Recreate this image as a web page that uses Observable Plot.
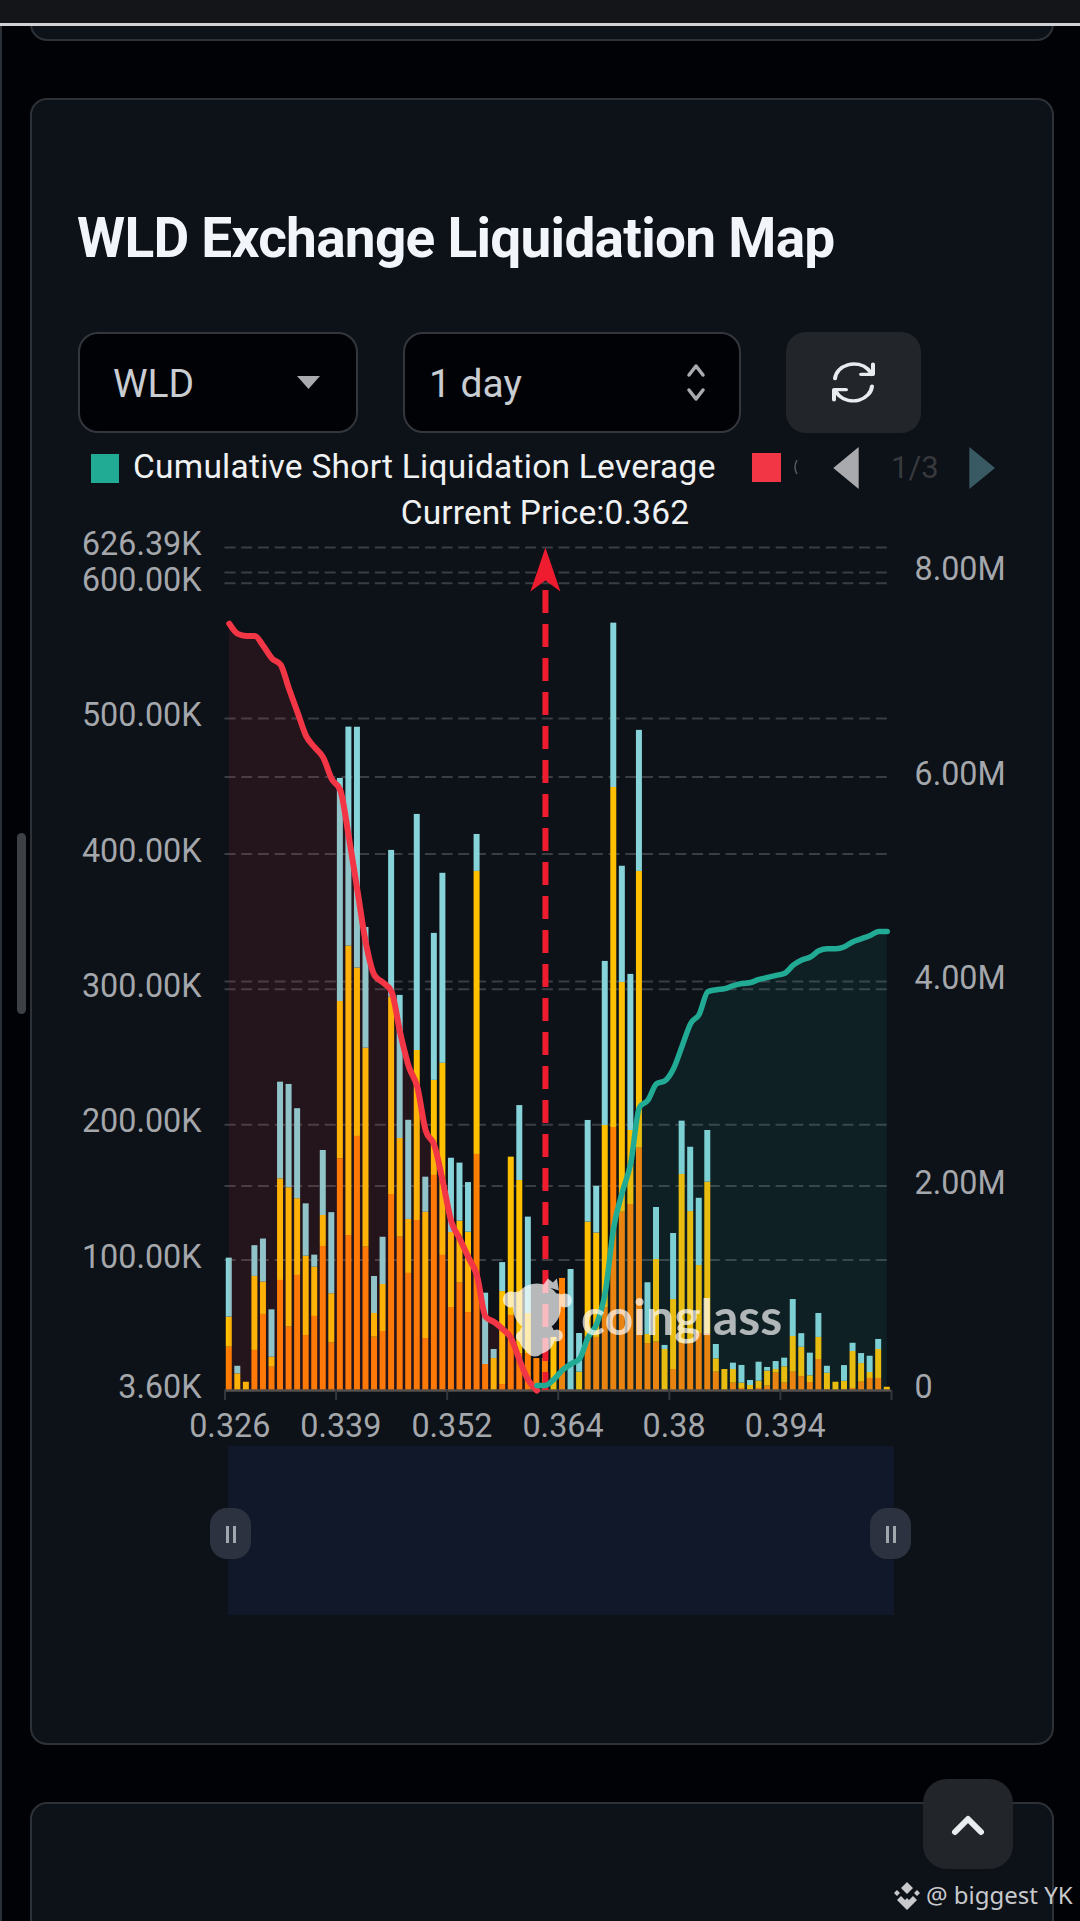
<!DOCTYPE html>
<html><head><meta charset="utf-8">
<script src="https://cdn.jsdelivr.net/npm/d3@7"></script>
<script src="https://cdn.jsdelivr.net/npm/@observablehq/plot@0.6"></script>
<style>
html,body{margin:0;padding:0;width:1080px;height:1921px;background:#000206;overflow:hidden;font-family:Roboto,sans-serif}
.a{position:absolute;box-sizing:border-box;white-space:nowrap}
.card{background:#0d1118;border:2px solid #2d3138;border-radius:17px}
.box{background:#000206;border:2px solid #33373d;border-radius:20px}
#chart{position:absolute;left:0;top:500px}
#chart svg{background:transparent;overflow:visible}
svg.i{position:absolute;left:0;top:0}
</style></head><body>
<div class="a" style="left:0;top:0;width:1080px;height:23px;background:#141519;z-index:3"></div>
<div class="a" style="left:0;top:23px;width:1080px;height:3px;background:#d0d1d5;z-index:3"></div>
<div class="a" style="left:0;top:26px;width:2px;height:1895px;background:#2b2f36"></div>
<div class="a card" style="left:30px;top:-40px;width:1024px;height:81px"></div>
<div class="a card" style="left:30px;top:98px;width:1024px;height:1647px"></div>
<div class="a card" style="left:30px;top:1802px;width:1024px;height:200px"></div>
<div class="a" style="left:17px;top:833px;width:9px;height:181px;background:#3d4044;border-radius:5px"></div>

<div class="a" id="title" style="left:77px;top:206px;font-size:55px;line-height:64px;font-weight:700;color:#f2f5f9;letter-spacing:-.75px">WLD Exchange Liquidation Map</div>
<div class="a box" style="left:78px;top:332px;width:280px;height:101px"></div>
<div class="a" style="left:113px;top:361px;font-size:39px;line-height:46px;color:#c9ccd1">WLD</div>
<div class="a box" style="left:403px;top:332px;width:338px;height:101px"></div>
<div class="a" style="left:429px;top:361px;font-size:39px;line-height:46px;color:#c9ccd1">1 day</div>
<div class="a" style="left:786px;top:332px;width:135px;height:101px;background:#22252a;border-radius:20px"></div>
<div class="a" style="left:91px;top:454px;width:28px;height:29px;background:#22ab94"></div>
<div class="a" style="left:133px;top:446px;font-size:33.500px;line-height:42px;color:#f0f1f2;letter-spacing:.25px">Cumulative Short Liquidation Leverage</div>
<div class="a" style="left:752px;top:453px;width:29px;height:29px;background:#f23645"></div>
<div class="a" style="left:891px;top:448px;font-size:31px;line-height:40px;color:#37393d">1/3</div>
<div class="a" style="left:545px;top:493px;transform:translateX(-50%);font-size:33.500px;line-height:40px;color:#f0f1f2;letter-spacing:.1px">Current Price:0.362</div>

<div class="a" style="left:228px;top:1446px;width:666px;height:169px;background:#111829"></div>
<div class="a" style="left:210px;top:1508px;width:41px;height:51px;background:#2d3240;border-radius:17px"></div>
<div class="a" style="left:870px;top:1508px;width:41px;height:51px;background:#2d3240;border-radius:17px"></div>
<div class="a" style="left:225.500px;top:1526px;width:3px;height:17px;background:#a2a6ad;box-shadow:7px 0 0 #a2a6ad"></div>
<div class="a" style="left:886px;top:1526px;width:3px;height:17px;background:#a2a6ad;box-shadow:7px 0 0 #a2a6ad"></div>

<div id="chart"></div>

<svg class="i" width="1080" height="1921" style="pointer-events:none">
  <path d="M297 376h23l-11.500 13z" fill="#a9aaad"/>
  <path d="M689 375l7-9 7 9M689 390l7 9 7-9" fill="none" stroke="#a9abb0" stroke-width="3.500" stroke-linecap="round" stroke-linejoin="round"/>
  <g fill="none" stroke="#e8ecef" stroke-width="4" stroke-linecap="round" stroke-linejoin="round" transform="translate(853.500,382) scale(1,.85) translate(-853.500,-382)">
    <path d="M835 378a19 19 0 0 1 33-11l4 6"/><path d="M872 387a19 19 0 0 1-33 11l-4-6"/>
    <path d="M873 361v12h-12M834 403v-12h12"/>
  </g>
  <path d="M833.300 468l25.400-21v42z" fill="#a9aaad"/>
  <path d="M969.300 447l25.700 21-25.700 21z" fill="#3a5a63"/>
  <path d="M797 460a14 14 0 0 0 0 14" stroke="#55585c" stroke-width="1.500" fill="none"/>
  <rect x="923" y="1779" width="90" height="90" rx="24" fill="#22252a"/>
  <path d="M955 1832l13-13 13 13" fill="none" stroke="#e8ecef" stroke-width="6" stroke-linecap="round" stroke-linejoin="round"/>
  <g fill="#c8c9cc">
    <path d="M907 1881l6 6-6 6-6-6z M907 1897l3 3-3 3-3-3z M897 1889l3 3-3 3-3-3z M917 1889l3 3-3 3-3-3z" transform="translate(0,1)"/>
    <path d="M897 1900l4-4 6 6 6-6 4 4-10 10z"/>
  </g>
  <text x="926" y="1904" font-family="Noto Sans" font-size="24" fill="#c8c9cc">@ biggest YK</text>
</svg>

<script>
// ---- data ----
const barCount = 78;
const seg1 = [35.6,0,0,33.2,59.8,20.8,84.9,50.4,88.6,44.2,58.3,110,38.6,174.8,118.1,191.3,109.5,43,47.2,148.4,116.9,90.1,129.2,42,162.5,103.4,64.9,82.9,61.2,178,22.8,0,8,59,30.9,30.9,27.2,27.2,0,86.4,0,0,42.8,42.8,64.9,197.9,135.3,141,182.6,38.3,39.3,0,19.1,38.3,38.3,45.7,45.7,17.1,0,9,5.1,4.3,5.1,6.8,16.4,9,17.1,13.9,9.5,26.5,4.3,0,4.3,5.1,9.7,12.5,12.5,0];
const seg2 = [22.2,15.9,9.7,54.7,23.9,7.4,75.1,103,56.7,58.6,36.4,22.9,36.5,116.2,213.8,124.4,147,17.5,34.7,145.8,72.9,39.9,125.6,93.3,70.2,141.9,55.4,45.8,59.3,209.1,0,27.2,68.7,117,127.8,29.6,0,0,42.8,0,0,17.1,85.2,77.1,134.5,251.2,169.7,54.7,204.5,6.7,61.1,33.9,51.7,124.9,97.5,50.2,111.8,9.9,19.1,10.1,3.9,3,5.4,11.1,2.7,12.1,26.4,21.6,5,16.3,12,9.7,6.1,27.3,13.8,4.4,21.4,6];
const seg3 = [43.6,5.6,0,22.7,31.8,35,71.4,76.3,66.5,38.7,8.9,48,59.9,164.8,161.8,177.9,89.2,27.3,34.9,108.4,105.7,73.2,174.4,25.9,108.6,140.4,54.9,42.9,36.7,27.3,52.7,6.7,21.4,0,55.4,71.2,0,0,0,0,93,28.6,75.1,34.5,121.2,121.4,85.9,115.3,104.2,38.2,38.4,3,48.8,39.4,47.5,49.7,38.2,10.6,0,4.7,13.1,3.7,14,2.7,5.9,6.4,27.3,10.1,16.7,17.7,5.2,0,11.6,6.1,7.4,12,7.4,0];
const shortCum = [0.05,0.05,0.11,0.20,0.26,0.31,0.52,0.65,0.96,1.60,1.94,2.23,2.77,2.84,3.00,3.03,3.15,3.37,3.59,3.68,3.90,3.92,3.93,3.96,3.98,3.99,4.02,4.04,4.06,4.08,4.16,4.21,4.24,4.30,4.32,4.32,4.34,4.39,4.42,4.45,4.49,4.49];
const shortStart = 36;
const longCum = [7.50,7.40,7.38,7.38,7.28,7.16,7.10,6.86,6.63,6.40,6.29,6.19,5.98,5.87,5.41,4.89,4.37,4.06,3.99,3.90,3.50,3.17,2.97,2.54,2.40,2.04,1.65,1.48,1.30,1.12,0.72,0.67,0.60,0.51,0.29,0.10,0];
const currentIndex = 37;
const xTickIndex = [0,13,26,39,52,65];
const xTickLabels = ["0.326","0.339","0.352","0.364","0.38","0.394"];
const leftTicks = [3.6,100,200,300,400,500,600,626.39];
const rightTicks = [0,2,4,6,8];
const leftMin = 3.6, leftMax = 626.39, rightMax = 8.245;
const barColors = ["#ff8000","#ffc000","#86d4d9"];

// ---- tables ----
const idx = d3.range(barCount);
const rows = [seg1,seg2,seg3].flatMap((s,k)=>s.map((v,i)=>({i,v,color:barColors[k]}))).filter(d=>d.v>0);
const toLeft = d3.scaleLinear([0,rightMax],[leftMin,leftMax]);
const redRows = longCum.map((m,i)=>({i,v:toLeft(m)}));
const greenRows = shortCum.map((m,k)=>({i:k+shortStart,v:toLeft(m)}));
const gridRows = [...leftTicks.slice(1),...rightTicks.slice(1).map(toLeft)];

const axisFont = {fontSize:32.3,color:"#a4a7ab",label:null,tickSize:0,dy:-2.5};

// custom symbols (arrow head tip at the anchor; watermark mascot)
const arrowHead = {draw(c){c.moveTo(0,0);c.lineTo(15,44);c.lineTo(0,33);c.lineTo(-15,44);c.closePath();}};
function circ(c,x,y,r){c.moveTo(x+r,y);c.arc(x,y,r,0,2*Math.PI);c.closePath();}
const mascot = {draw(c){
  circ(c,0,-11,24);circ(c,0,18,18);circ(c,-2,28,10);
  circ(c,-26,-19,8);circ(c,-19,-19,8);circ(c,28,-18,7);circ(c,21,-18,7);
  circ(c,-15,18,6);circ(c,20,17,6);
  c.moveTo(6,-33);c.lineTo(11,-40);c.lineTo(16,-36);c.lineTo(20,-40);c.lineTo(22,-28);c.closePath();
}};

const chart = Plot.plot({
  width:1080, height:950,
  marginTop:47, marginBottom:60, marginLeft:224.5, marginRight:189,
  style:{background:"transparent",fontFamily:"Roboto, sans-serif",overflow:"visible"},
  x:{type:"band",domain:idx,paddingInner:0.3,paddingOuter:0.15,label:null,axis:null},
  y:{domain:[leftMin,leftMax],clamp:true,label:null,axis:null},
  marks:[
    Plot.ruleY(gridRows,{stroke:"#3a3d42",strokeWidth:2,strokeDasharray:"11 5.700"}),
    Plot.barY(rows,{x:"i",y:"v",fill:"color"}),
    Plot.areaY(redRows,{x:"i",y1:leftMin,y2:"v",fill:"#f23645",fillOpacity:0.1,curve:"monotone-x"}),
    Plot.areaY(greenRows,{x:"i",y1:leftMin,y2:"v",fill:"#26a69a",fillOpacity:0.1,curve:"monotone-x"}),
    Plot.ruleY([leftMin],{stroke:"#55504c",strokeWidth:2.500}),
    Plot.axisX({ticks:xTickIndex,tickSize:10,tickFormat:()=>"",dx:-4.270,stroke:"#33363b",strokeWidth:2,tickPadding:0,label:null}),
    Plot.axisX({ticks:[barCount-1],tickSize:10,tickFormat:()=>"",dx:4.270,stroke:"#33363b",strokeWidth:2,tickPadding:0,label:null}),
    Plot.axisX({ticks:xTickIndex,tickSize:0,tickPadding:24,dx:0.500,fontSize:32.3,fill:"#a4a7ab",label:null,
      tickFormat:(d)=>xTickLabels[xTickIndex.indexOf(d)]}),
    Plot.axisY({...axisFont,ticks:leftTicks,anchor:"left",tickPadding:23.500,tickFormat:d=>d.toFixed(2)+"K"}),
    Plot.axisY({...axisFont,ticks:rightTicks.map(toLeft),anchor:"right",tickPadding:23,
      tickFormat:d=>{const m=toLeft.invert(d);return m<0.001?"0":m.toFixed(2)+"M";}}),
    Plot.ruleX([currentIndex],{y1:594.7,y2:leftMin,stroke:"#ee1c2e",strokeWidth:6,strokeDasharray:"23 11"}),
    Plot.dot([currentIndex],{x:d=>d,y:()=>leftMax,symbol:arrowHead,fill:"#ee1c2e",stroke:"none",r:5}),
    Plot.lineY(redRows,{x:"i",y:"v",stroke:"#f23645",strokeWidth:6,curve:"monotone-x",strokeLinejoin:"round"}),
    Plot.lineY(greenRows,{x:"i",y:"v",stroke:"#22ab94",strokeWidth:5.500,curve:"monotone-x",strokeLinejoin:"round"}),
    Plot.dot([36],{x:d=>d,y:()=>56.8,symbol:mascot,fill:"#fff",fillOpacity:0.7,stroke:"none",r:5}),
    Plot.text(["coinglass"],{x:()=>52,y:()=>56.5,text:d=>d,fill:"#fff",fillOpacity:0.68,fontSize:50,fontWeight:700,fontFamily:"Lato, sans-serif",textAnchor:"middle",dx:8})
  ]
});
document.getElementById("chart").append(chart);
</script>
</body></html>
